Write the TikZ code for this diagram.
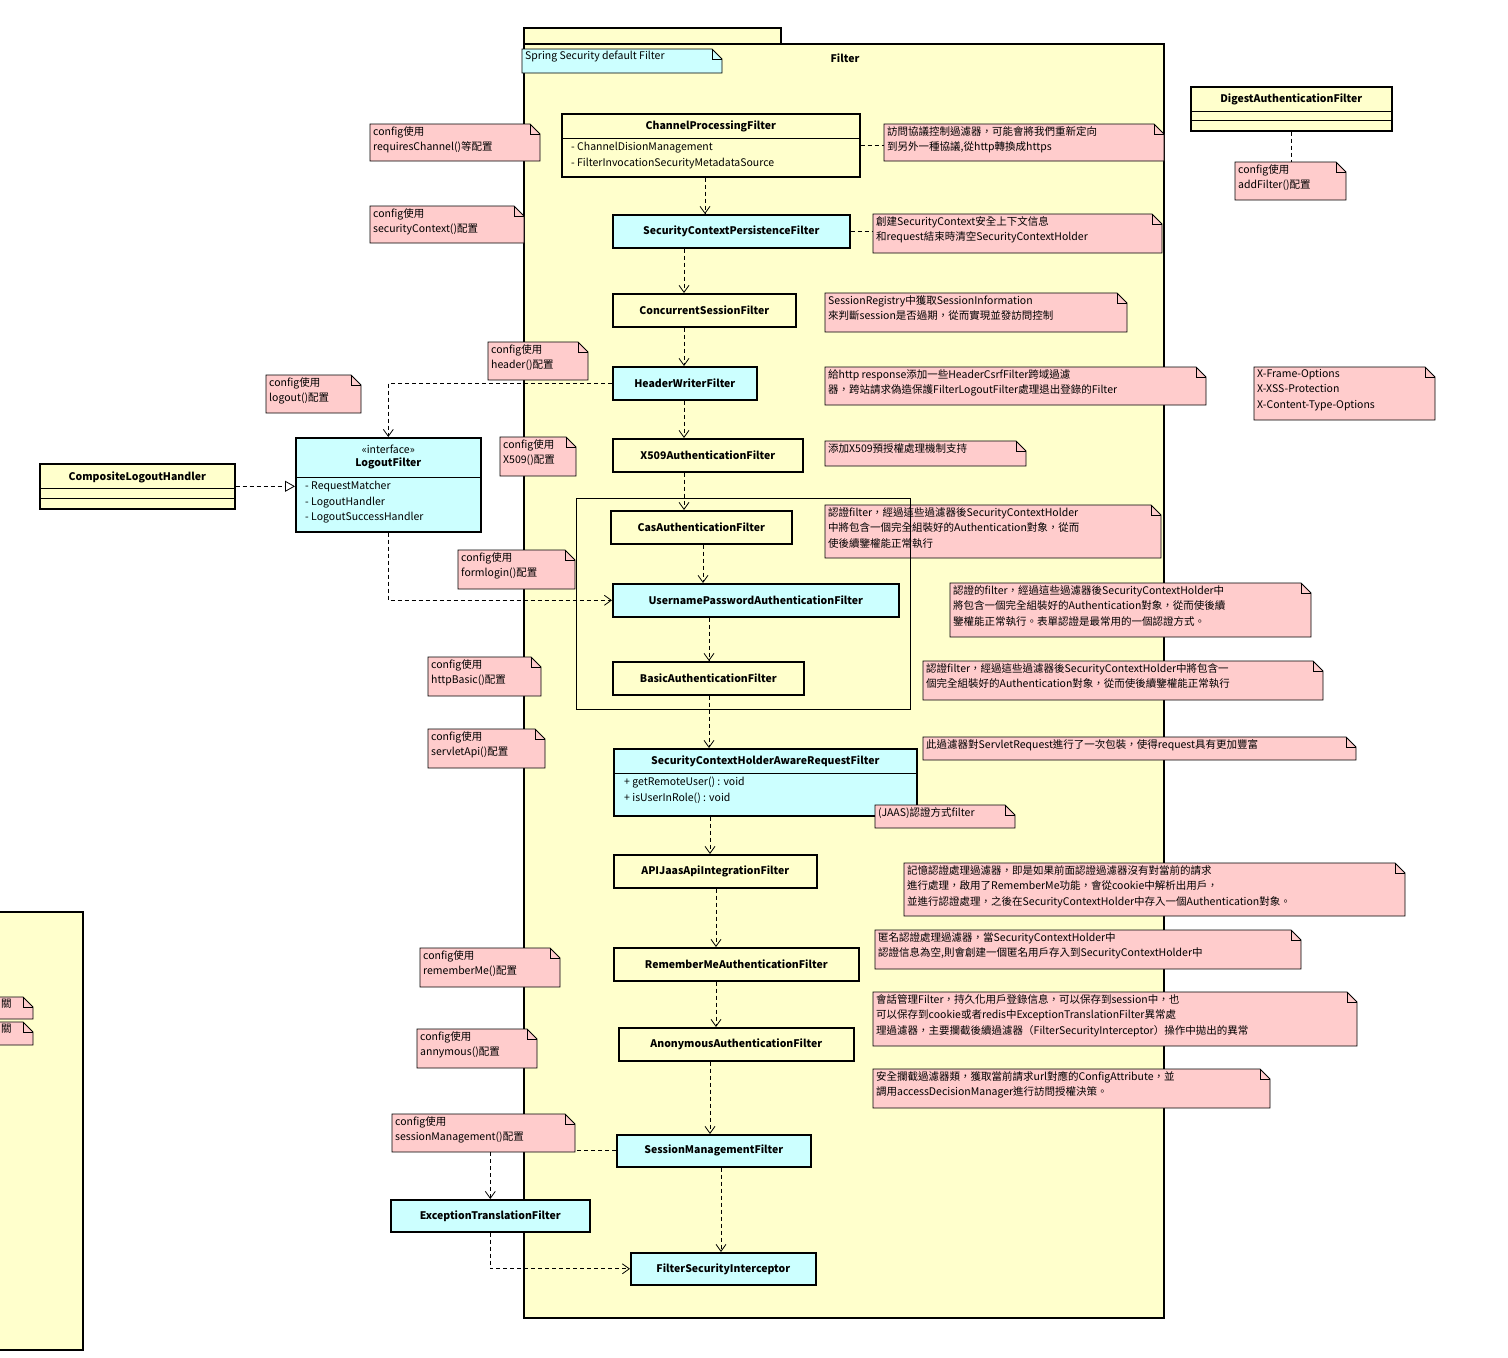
\documentclass[tikz,border=0pt]{standalone}
\usepackage{fontspec}
\setmainfont{Noto Sans CJK TC}
\usetikzlibrary{arrows.meta,calc}
\definecolor{pkg}{HTML}{FFFFCC}
\definecolor{cyanf}{HTML}{CCFFFF}
\definecolor{notef}{HTML}{FFCCCC}
\tikzset{
  cbox/.style={draw,line width=1.6pt,anchor=north west,inner sep=0pt},
  dep/.style={draw,line width=0.8pt,dash pattern=on 4pt off 3pt,-{Straight Barb[length=7pt,width=10pt]}},
  lnk/.style={draw,line width=0.8pt,dash pattern=on 4pt off 3pt},
  txt/.style={font=\fontsize{10.5}{15.5}\selectfont,align=left,inner sep=0pt,anchor=north west},
  ttl/.style={font=\fontsize{10.5}{13}\selectfont\bfseries,inner sep=0pt},
}
\newcommand\cls[7]{%
 \pgfmathsetmacro\ww{#4-#2}\pgfmathsetmacro\hh{#5-#3}%
 \node[cbox,fill=#6,minimum width=\ww pt,minimum height=\hh pt] (#1) at (#2,#3) {};
 \node[ttl] at (#1) {#7};}
\newcommand\clst[8]{% title at given y
 \pgfmathsetmacro\ww{#4-#2}\pgfmathsetmacro\hh{#5-#3}%
 \node[cbox,fill=#6,minimum width=\ww pt,minimum height=\hh pt] (#1) at (#2,#3) {};
 \node[ttl,align=center] at ($(#1.north)+(0,#8)$) {#7};}
\newcommand\nt[6]{%
 \pgfmathsetmacro\ww{#4-#2}\pgfmathsetmacro\hh{#5-#3}%
 \fill[notef] (#2,#3) -- (#4-10,#3) -- (#4,#3+10) -- (#4,#5) -- (#2,#5) -- cycle;
 \draw[line width=0.9pt] (#2,#3) -- (#4-10,#3) -- (#4,#3+10) -- (#4,#5) -- (#2,#5) -- cycle;
 \draw[line width=0.8pt] (#4-10,#3) -- (#4-10,#3+10) -- (#4,#3+10);
 \node[inner sep=0pt,anchor=north west,minimum width=\ww pt,minimum height=\hh pt] (#1) at (#2,#3) {};
 \node[txt] at (#2+3,#3+2) {#6};}
\begin{document}
\begin{tikzpicture}[x=1pt,y=-1pt]
\useasboundingbox (0,0) rectangle (1508,1358);
% packages
\draw[line width=1.6pt,fill=pkg] (524,28) rectangle (781,44);
\draw[line width=1.6pt,fill=pkg] (524,44) rectangle (1164,1318);
\node[ttl] (pkgl) at (845,58) {Filter};
\draw[line width=1.6pt,fill=pkg] (-5,912) rectangle (83,1350);
% spring note (cyan)
\fill[cyanf] (522,49) -- (712,49) -- (722,59) -- (722,73) -- (522,73) -- cycle;
\draw[line width=0.9pt] (522,49) -- (712,49) -- (722,59) -- (722,73) -- (522,73) -- cycle;
\draw[line width=0.8pt] (712,49) -- (712,59) -- (722,59);
\node[txt] (spr) at (525,51) {Spring Security default Filter};
% classes
\clst{chan}{561}{113}{859}{176}{pkg}{ChannelProcessingFilter}{13}
\draw[line width=1pt] (561,138) -- (859,138);
\node[txt] (chana) at (571,142) {- ChannelDisionManagement\\- FilterInvocationSecurityMetadataSource};
\cls{scpf}{612}{214}{849}{247}{cyanf}{SecurityContextPersistenceFilter}
\cls{csf}{612}{293}{795}{326}{pkg}{ConcurrentSessionFilter}
\cls{hw}{612}{366}{756}{399}{cyanf}{HeaderWriterFilter}
\cls{x509}{612}{438}{802}{471}{pkg}{X509AuthenticationFilter}
\cls{cas}{610}{510}{791}{543}{pkg}{CasAuthenticationFilter}
\cls{up}{612}{583}{898}{616}{cyanf}{UsernamePasswordAuthenticationFilter}
\cls{basic}{612}{661}{803}{694}{pkg}{BasicAuthenticationFilter}
\clst{schar}{613}{748}{916}{815}{cyanf}{SecurityContextHolderAwareRequestFilter}{13}
\draw[line width=1pt] (613,773) -- (916,773);
\node[txt] (schara) at (624,777) {+ getRemoteUser() : void\\+ isUserInRole() : void};
\cls{jaas}{613}{854}{816}{887}{pkg}{APIJaasApiIntegrationFilter}
\cls{rem}{613}{947}{858}{980}{pkg}{RememberMeAuthenticationFilter}
\cls{anon}{618}{1027}{853}{1060}{pkg}{AnonymousAuthenticationFilter}
\cls{sm}{616}{1134}{810}{1166}{cyanf}{SessionManagementFilter}
\cls{ex}{390}{1199}{589}{1231}{cyanf}{ExceptionTranslationFilter}
\cls{fsi}{630}{1252}{815}{1284}{cyanf}{FilterSecurityInterceptor}
\clst{lf}{295}{437}{480}{531}{cyanf}{\mdseries<<interface>>\\LogoutFilter}{20}
\draw[line width=1pt] (295,477) -- (480,477);
\node[txt] (lfa) at (305,481) {- RequestMatcher\\- LogoutHandler\\- LogoutSuccessHandler};
\clst{clh}{39}{463}{234}{508}{pkg}{CompositeLogoutHandler}{14}
\draw[line width=1pt] (39,488) -- (234,488);
\draw[line width=1pt] (39,498) -- (234,498);
\clst{dig}{1190}{86}{1391}{130}{pkg}{DigestAuthenticationFilter}{13}
\draw[line width=1pt] (1190,111) -- (1391,111);
\draw[line width=1pt] (1190,120) -- (1391,120);
% notes
\nt{n1}{370}{124}{540}{161}{config使用\\requiresChannel()等配置}
\nt{n2}{370}{206}{524}{243}{config使用\\securityContext()配置}
\nt{n3}{884}{124}{1164}{161}{訪問協議控制過濾器，可能會將我們重新定向\\到另外一種協議,從http轉換成https}
\nt{n4}{873}{214}{1162}{253}{創建SecurityContext安全上下文信息\\和request結束時清空SecurityContextHolder}
\nt{n5}{825}{293}{1127}{332}{SessionRegistry中獲取SessionInformation\\來判斷session是否過期，從而實現並發訪問控制}
\nt{n6}{488}{342}{588}{380}{config使用\\header()配置}
\nt{n7}{266}{375}{361}{413}{config使用\\logout()配置}
\nt{n8}{825}{367}{1206}{405}{給http response添加一些HeaderCsrfFilter跨域過濾\\器，跨站請求偽造保護FilterLogoutFilter處理退出登錄的Filter}
\nt{n9}{1254}{367}{1435}{420}{X-Frame-Options\\X-XSS-Protection\\X-Content-Type-Options}
\nt{n10}{500}{437}{576}{476}{config使用\\X509()配置}
\nt{n11}{825}{441}{1026}{466}{添加X509預授權處理機制支持}
\nt{n12}{825}{505}{1161}{558}{認證filter，經過這些過濾器後SecurityContextHolder\\中將包含一個完全組裝好的Authentication對象，從而\\使後續鑒權能正常執行}
\nt{n13}{458}{550}{575}{589}{config使用\\formlogin()配置}
\nt{n14}{950}{583}{1311}{637}{認證的filter，經過這些過濾器後SecurityContextHolder中\\將包含一個完全組裝好的Authentication對象，從而使後續\\鑒權能正常執行。表單認證是最常用的一個認證方式。}
\nt{n15}{428}{657}{541}{696}{config使用\\httpBasic()配置}
\nt{n16}{923}{661}{1323}{700}{認證filter，經過這些過濾器後SecurityContextHolder中將包含一\\個完全組裝好的Authentication對象，從而使後續鑒權能正常執行}
\nt{n17}{428}{729}{545}{768}{config使用\\servletApi()配置}
\nt{n18}{923}{737}{1356}{760}{此過濾器對ServletRequest進行了一次包裝，使得request具有更加豐富}
\nt{n19}{875}{805}{1015}{828}{(JAAS)認證方式filter}
\nt{n20}{904}{863}{1405}{916}{記憶認證處理過濾器，即是如果前面認證過濾器沒有對當前的請求\\進行處理，啟用了RememberMe功能，會從cookie中解析出用戶，\\並進行認證處理，之後在SecurityContextHolder中存入一個Authentication對象。}
\nt{n21}{420}{948}{560}{987}{config使用\\rememberMe()配置}
\nt{n22}{875}{930}{1301}{969}{匿名認證處理過濾器，當SecurityContextHolder中\\認證信息為空,則會創建一個匿名用戶存入到SecurityContextHolder中}
\nt{n23}{417}{1029}{537}{1068}{config使用\\annymous()配置}
\nt{n24}{873}{992}{1357}{1046}{會話管理Filter，持久化用戶登錄信息，可以保存到session中，也\\可以保存到cookie或者redis中ExceptionTranslationFilter異常處\\理過濾器，主要攔截後續過濾器（FilterSecurityInterceptor）操作中拋出的異常}
\nt{n25}{873}{1069}{1270}{1108}{安全攔截過濾器類，獲取當前請求url對應的ConfigAttribute，並\\調用accessDecisionManager進行訪問授權決策。}
\nt{n26}{392}{1114}{575}{1152}{config使用\\sessionManagement()配置}
\nt{n27}{1235}{162}{1346}{200}{config使用\\addFilter()配置}
\nt{n28}{-20}{997}{33}{1019}{\hspace{18pt}關}
\nt{n29}{-20}{1022}{33}{1045}{\hspace{18pt}關}
% inner rectangle
\draw[line width=0.8pt] (576,498) rectangle (910,709);
% x coords
\coordinate (x705) at (705,0);
\coordinate (x684) at (684,0);
\coordinate (x703) at (703,0);
\coordinate (x709) at (709,0);
\coordinate (x710) at (710,0);
\coordinate (x716) at (716,0);
\coordinate (x721) at (721,0);
% chain
\draw[dep] (chan.south -| x705) -- (scpf.north -| x705);
\draw[dep] (scpf.south -| x684) -- (csf.north -| x684);
\draw[dep] (csf.south -| x684) -- (hw.north -| x684);
\draw[dep] (hw.south -| x684) -- (x509.north -| x684);
\draw[dep] (x509.south -| x684) -- (cas.north -| x684);
\draw[dep] (cas.south -| x703) -- (up.north -| x703);
\draw[dep] (up.south -| x709) -- (basic.north -| x709);
\draw[dep] (basic.south -| x709) -- (schar.north -| x709);
\draw[dep] (schar.south -| x710) -- (jaas.north -| x710);
\draw[dep] (jaas.south -| x716) -- (rem.north -| x716);
\draw[dep] (rem.south -| x716) -- (anon.north -| x716);
\draw[dep] (anon.south -| x710) -- (sm.north -| x710);
\draw[dep] (sm.south -| x721) -- (fsi.north -| x721);
\draw[dep] (hw.west) -- (hw.west -| lf.north) -- (lf.north);
\draw[dep] (lf.south) -- (lf.south |- up.west) -- (up.west);
\draw[line width=0.8pt,dash pattern=on 4pt off 3pt,-{Triangle[open,length=10pt,width=11pt]}] (clh.east) -- (clh.east -| lf.west);
\draw[dep] (ex.north |- n26.south) -- (ex.north);
\draw[dep] (ex.south) -- (ex.south |- fsi.west) -- (fsi.west);
% note links
\draw[lnk] (chan.east) -- (chan.east -| n3.west);
\draw[lnk] (scpf.east) -- (scpf.east -| n4.west);
\draw[lnk] (dig.south) -- (dig.south |- n27.north);
\draw[lnk] (sm.west) -- (sm.west -| n26.east);
\end{tikzpicture}
\end{document}
